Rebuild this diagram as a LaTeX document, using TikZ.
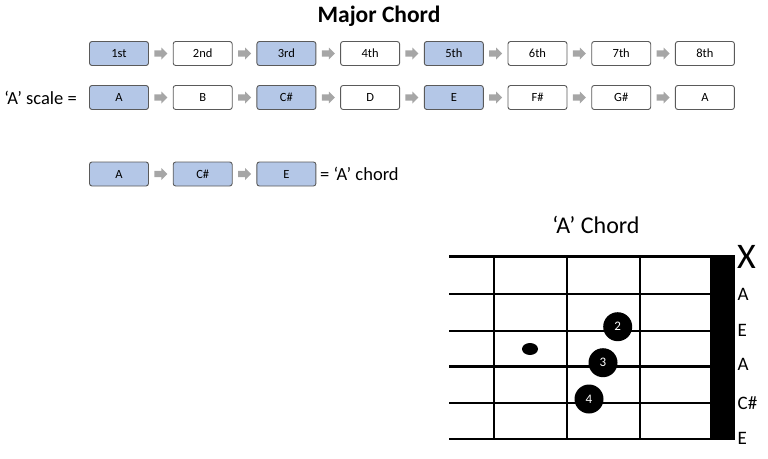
\documentclass[tikz,border=0pt]{standalone}
\usepackage{fontspec}
\setmainfont{Carlito}
\usetikzlibrary{calc}
\definecolor{boxblue}{HTML}{B4C7E7}
\definecolor{boxline}{HTML}{5A5A5A}
\definecolor{arrgray}{HTML}{A6A6A6}
\tikzset{
  notebox/.style={draw=boxline, line width=0.9pt, rounded corners=2.5pt, minimum width=59pt, minimum height=24pt, inner sep=0pt, font=\fontsize{12.5}{13}\selectfont, fill=white},
  hibox/.style={notebox, fill=boxblue},
  fret/.style={line width=2.7pt},
  finger/.style={circle, fill=black, minimum size=29pt, inner sep=0pt, text=white, font=\fontsize{13}{14}\selectfont},
  side/.style={anchor=west, inner sep=0pt, font=\fontsize{18.5}{20}\selectfont}
}
\newcommand{\blockarr}[2]{%
  \fill[arrgray] ($(#1.east)!0.5!(#2.west)$) ++(-6.5,-3.2) -- ++(7,0) -- ++(0,-2.8) -- ++(6,6) -- ++(-6,6) -- ++(0,-2.8) -- ++(-7,0) -- cycle;}
\begin{document}
\begin{tikzpicture}[x=1pt,y=-1pt]
\useasboundingbox (0,0) rectangle (768,458);
\node[font=\fontsize{23.5}{26}\selectfont\bfseries] (title) at (379,16) {Major Chord};
% row 1
\foreach \t [count=\i] in {1st,2nd,3rd,4th,5th,6th,7th,8th}{
  \pgfmathsetmacro{\xx}{119+83.7*(\i-1)}
  \ifnum\i=1 \def\st{hibox}\else\ifnum\i=3 \def\st{hibox}\else\ifnum\i=5 \def\st{hibox}\else\def\st{notebox}\fi\fi\fi
  \node[\st] (r1c\i) at (\xx,53.5) {\t};
}
\foreach \t [count=\i] in {A,B,C\#,D,E,F\#,G\#,A}{
  \pgfmathsetmacro{\xx}{119+83.7*(\i-1)}
  \ifnum\i=1 \def\st{hibox}\else\ifnum\i=3 \def\st{hibox}\else\ifnum\i=5 \def\st{hibox}\else\def\st{notebox}\fi\fi\fi
  \node[\st] (r2c\i) at (\xx,97.5) {\t};
}
\foreach \i [evaluate=\i as \j using int(\i+1)] in {1,...,7}{
  \blockarr{r1c\i}{r1c\j}
  \blockarr{r2c\i}{r2c\j}
}
\node[side, anchor=east] (scale) at (77,97.5) {‘A’ scale =};
% row 3
\node[hibox] (r3c1) at (119,174) {A};
\node[hibox] (r3c2) at (202.7,174) {C\#};
\node[hibox] (r3c3) at (286.4,174) {E};
\blockarr{r3c1}{r3c2}
\blockarr{r3c2}{r3c3}
\node[side] (chordtxt) at (320,174) {= ‘A’ chord};
% chord diagram
\node[font=\fontsize{24}{26}\selectfont] (ctitle) at (596,225) {‘A’ Chord};
\foreach \y in {256.7,294,331,366.7,403,439}{
  \draw[fret] (449,\y) -- (711,\y);
}
\foreach \x in {494,567,640}{
  \draw[fret] (\x,255.35) -- (\x,440.35);
}
\fill[black] (709.5,255.35) rectangle (735,440.35);
\fill[black] (530,349) ellipse (8 and 6);
\node[finger] (f2) at (617.7,326.7) {2};
\node[finger] (f3) at (603,362.7) {3};
\node[finger] (f4) at (589,399) {4};
\node[anchor=west, inner sep=0pt, font=\fontsize{36}{38}\selectfont] (sx) at (737,257) {X};
\foreach \t/\y [count=\k] in {A/294,E/330,A/364,C\#/403,E/438}{
  \node[anchor=west, inner sep=0pt, font=\fontsize{19}{20}\selectfont] (lab\k) at (737.5,\y) {\t};
}
\end{tikzpicture}
\end{document}
